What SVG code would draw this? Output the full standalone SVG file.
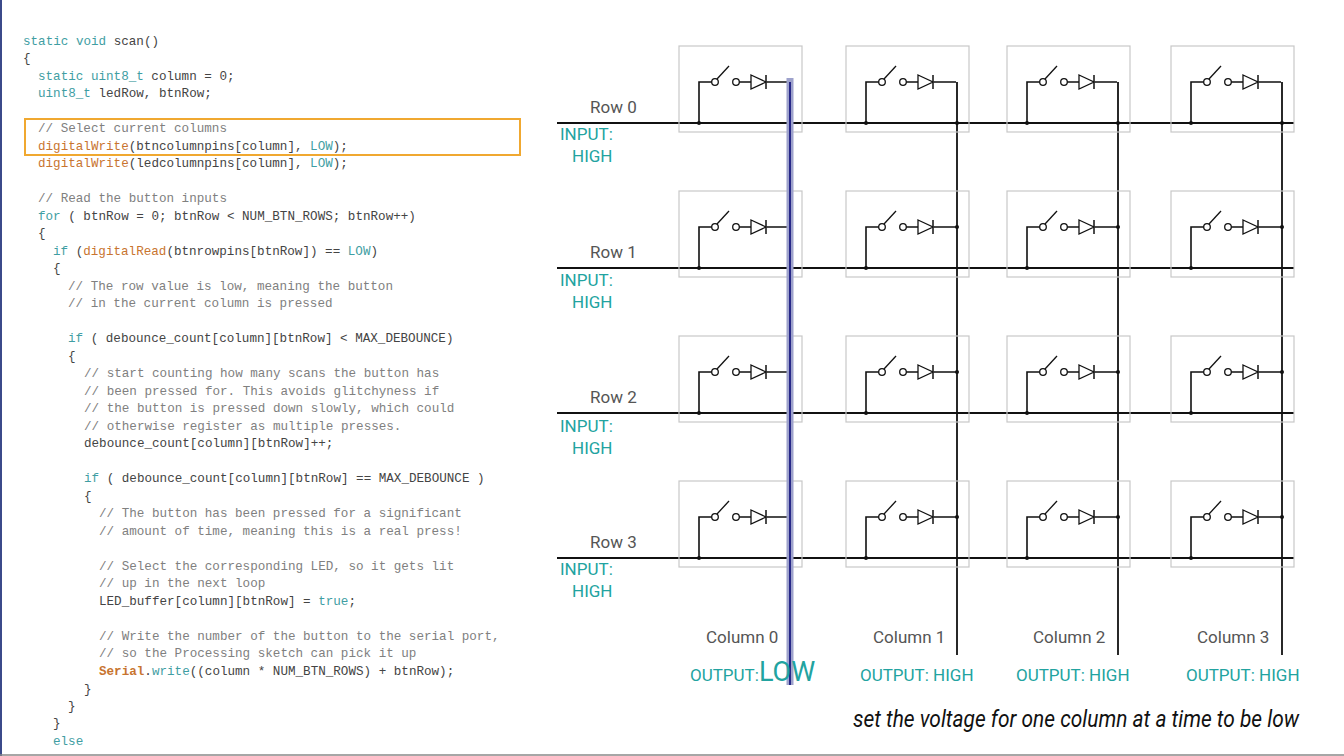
<svg xmlns="http://www.w3.org/2000/svg" width="1344" height="756" viewBox="0 0 1344 756">
<defs>
<style>
.c{font-family:"Liberation Mono",monospace;font-size:12.6px;fill:#444;white-space:pre}
.k{fill:#3f9ea3}.f{fill:#c8742f}.m{fill:#808080}.s{fill:#c8742f;font-weight:bold}
.lb{font-family:Roboto,"Liberation Sans",sans-serif;font-size:17px;fill:#555}
.t{font-family:Roboto,"Liberation Sans",sans-serif;font-size:17px;fill:#22a3a0}
.box{fill:none;stroke:#c8c8c8;stroke-width:1.2}
.w{fill:none;stroke:#111;stroke-width:1.6}
</style>
<g id="cell">
<rect class="box" x="0" y="0" width="123" height="86"/>
<path class="w" d="M20,77 V36 H33 M59,36 H72 M88,36 H110"/>
<circle cx="36" cy="36" r="3.3" fill="#fff" stroke="#111" stroke-width="1.3"/>
<circle cx="57" cy="36" r="3.3" fill="#fff" stroke="#111" stroke-width="1.3"/>
<line x1="38" y1="33" x2="50" y2="20" stroke="#111" stroke-width="1.3"/>
<path d="M72,29 L87,36 L72,43 Z" fill="#fff" stroke="#111" stroke-width="1.3"/>
<line x1="87" y1="29" x2="87" y2="43" stroke="#111" stroke-width="1.5"/>
<circle cx="20" cy="77" r="2" fill="#111"/>
</g>
</defs>
<rect width="1344" height="756" fill="#fff"/>
<line x1="1" y1="0" x2="1" y2="756" stroke="#3b4a8a" stroke-width="2"/>
<line x1="0" y1="755" x2="1344" y2="755" stroke="#888" stroke-width="1.5"/>
<g id="code">
<text class="c" x="23" y="45"><tspan class="k">static void</tspan> scan()</text>
<text class="c" x="23" y="62">{</text>
<text class="c" x="38" y="80"><tspan class="k">static uint8_t</tspan> column = 0;</text>
<text class="c" x="38" y="97"><tspan class="k">uint8_t</tspan> ledRow, btnRow;</text>
<text class="c m" x="38" y="132">// Select current columns</text>
<text class="c" x="38" y="150"><tspan class="f">digitalWrite</tspan>(btncolumnpins[column], <tspan class="k">LOW</tspan>);</text>
<text class="c" x="38" y="167"><tspan class="f">digitalWrite</tspan>(ledcolumnpins[column], <tspan class="k">LOW</tspan>);</text>
<text class="c m" x="38" y="202">// Read the button inputs</text>
<text class="c" x="38" y="220"><tspan class="k">for</tspan> ( btnRow = 0; btnRow &lt; NUM_BTN_ROWS; btnRow++)</text>
<text class="c" x="38" y="237">{</text>
<text class="c" x="53" y="255"><tspan class="k">if</tspan> (<tspan class="f">digitalRead</tspan>(btnrowpins[btnRow]) == <tspan class="k">LOW</tspan>)</text>
<text class="c" x="53" y="272">{</text>
<text class="c m" x="68" y="290">// The row value is low, meaning the button</text>
<text class="c m" x="68" y="307">// in the current column is pressed</text>
<text class="c" x="68" y="342"><tspan class="k">if</tspan> ( debounce_count[column][btnRow] &lt; MAX_DEBOUNCE)</text>
<text class="c" x="68" y="360">{</text>
<text class="c m" x="84" y="377">// start counting how many scans the button has</text>
<text class="c m" x="84" y="395">// been pressed for. This avoids glitchyness if</text>
<text class="c m" x="84" y="412">// the button is pressed down slowly, which could</text>
<text class="c m" x="84" y="430">// otherwise register as multiple presses.</text>
<text class="c" x="84" y="447">debounce_count[column][btnRow]++;</text>
<text class="c" x="84" y="482"><tspan class="k">if</tspan> ( debounce_count[column][btnRow] == MAX_DEBOUNCE )</text>
<text class="c" x="84" y="500">{</text>
<text class="c m" x="99" y="517">// The button has been pressed for a significant</text>
<text class="c m" x="99" y="535">// amount of time, meaning this is a real press!</text>
<text class="c m" x="99" y="570">// Select the corresponding LED, so it gets lit</text>
<text class="c m" x="99" y="587">// up in the next loop</text>
<text class="c" x="99" y="605">LED_buffer[column][btnRow] = <tspan class="k">true</tspan>;</text>
<text class="c m" x="99" y="640">// Write the number of the button to the serial port,</text>
<text class="c m" x="99" y="657">// so the Processing sketch can pick it up</text>
<text class="c" x="99" y="675"><tspan class="s">Serial</tspan>.<tspan class="k">write</tspan>((column * NUM_BTN_ROWS) + btnRow);</text>
<text class="c" x="84" y="693">}</text>
<text class="c" x="68" y="710">}</text>
<text class="c" x="53" y="727">}</text>
<text class="c k" x="53" y="745">else</text>
</g>
<rect id="highlight" x="25" y="119" width="495" height="36" fill="none" stroke="#f0a830" stroke-width="2"/>
<g id="connectors" stroke="#111" stroke-width="1.8">
<line x1="557" y1="123" x2="1294" y2="123"/>
<line x1="557" y1="268" x2="1294" y2="268"/>
<line x1="557" y1="413" x2="1294" y2="413"/>
<line x1="557" y1="558" x2="1294" y2="558"/>
<line x1="957" y1="82" x2="957" y2="655"/>
<line x1="1118" y1="82" x2="1118" y2="655"/>
<line x1="1282" y1="82" x2="1282" y2="655"/>
</g>
<g id="cells">
<use href="#cell" x="679" y="46"/><use href="#cell" x="846" y="46"/><use href="#cell" x="1007" y="46"/><use href="#cell" x="1171" y="46"/>
<use href="#cell" x="679" y="191"/><use href="#cell" x="846" y="191"/><use href="#cell" x="1007" y="191"/><use href="#cell" x="1171" y="191"/>
<use href="#cell" x="679" y="336"/><use href="#cell" x="846" y="336"/><use href="#cell" x="1007" y="336"/><use href="#cell" x="1171" y="336"/>
<use href="#cell" x="679" y="481"/><use href="#cell" x="846" y="481"/><use href="#cell" x="1007" y="481"/><use href="#cell" x="1171" y="481"/>
</g>
<g id="dots" fill="#111">
<circle cx="957" cy="123" r="2"/><circle cx="1118" cy="123" r="2"/><circle cx="1282" cy="123" r="2"/>
<circle cx="790" cy="227" r="2"/><circle cx="957" cy="227" r="2"/><circle cx="1118" cy="227" r="2"/><circle cx="1282" cy="227" r="2"/>
<circle cx="790" cy="372" r="2"/><circle cx="957" cy="372" r="2"/><circle cx="1118" cy="372" r="2"/><circle cx="1282" cy="372" r="2"/>
<circle cx="790" cy="517" r="2"/><circle cx="957" cy="517" r="2"/><circle cx="1118" cy="517" r="2"/><circle cx="1282" cy="517" r="2"/>
</g>
<g id="column0">
<rect x="786.5" y="78" width="7" height="607" fill="#9ea2cc"/>
<line x1="790" y1="82" x2="790" y2="685" stroke="#1a1a80" stroke-width="1.8"/>
</g>
<g id="labels">
<text class="lb" x="590" y="113">Row 0</text>
<text class="lb" x="590" y="258">Row 1</text>
<text class="lb" x="590" y="403">Row 2</text>
<text class="lb" x="590" y="548">Row 3</text>
<text class="t" x="560" y="140">INPUT:</text><text class="t" x="572" y="162">HIGH</text>
<text class="t" x="560" y="286">INPUT:</text><text class="t" x="572" y="308">HIGH</text>
<text class="t" x="560" y="432">INPUT:</text><text class="t" x="572" y="454">HIGH</text>
<text class="t" x="560" y="575">INPUT:</text><text class="t" x="572" y="597">HIGH</text>
<text class="lb" x="706" y="643">Column 0</text>
<text class="lb" x="873" y="643">Column 1</text>
<text class="lb" x="1033" y="643">Column 2</text>
<text class="lb" x="1197" y="643">Column 3</text>
<text class="t" x="690" y="681">OUTPUT:<tspan font-size="27">LOW</tspan></text>
<text class="t" x="860" y="681">OUTPUT: HIGH</text>
<text class="t" x="1016" y="681">OUTPUT:  HIGH</text>
<text class="t" x="1186" y="681">OUTPUT: HIGH</text>
<text x="853" y="727" font-family="Roboto,'Liberation Sans',sans-serif" font-style="italic" font-size="23" fill="#111" textLength="446" lengthAdjust="spacingAndGlyphs">set the voltage for one column at a time to be low</text>
</g>
</svg>
